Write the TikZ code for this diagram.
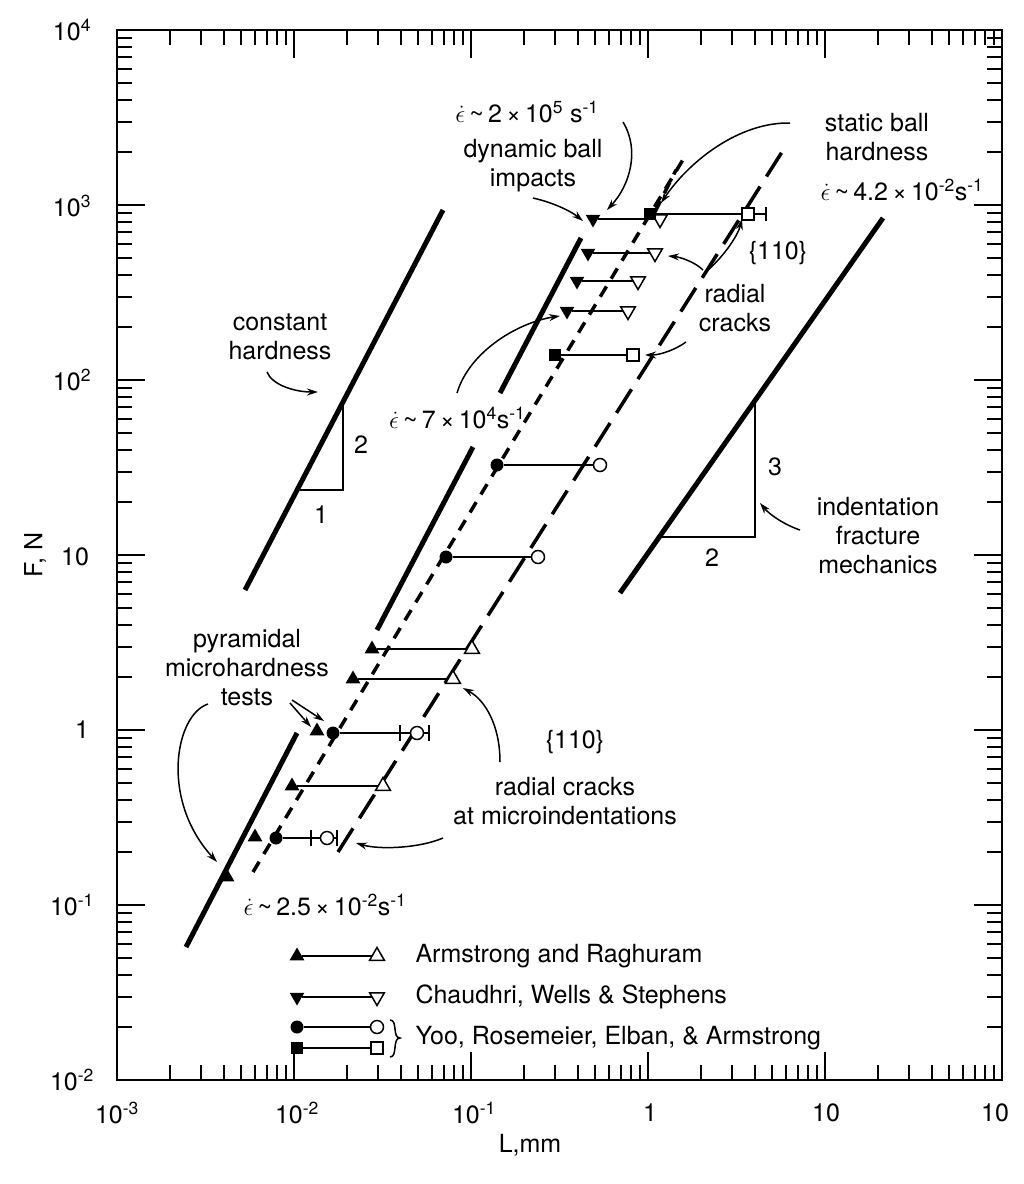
\documentclass[tikz,border=0pt]{standalone}
\usepackage{fontspec}
\setmainfont{TeX Gyre Heros}
\usetikzlibrary{shapes.geometric,arrows.meta}
\newcommand\ed{$\dot{\epsilon}$\,\textasciitilde\,}
\newcommand\sps[1]{\textsuperscript{#1}}
\begin{document}
\begin{tikzpicture}[x=1pt,y=-1pt,
  every node/.style={font=\fontsize{25}{29}\selectfont},
  thickln/.style={line width=5pt},
  sdash/.style={line width=3.5pt,dash pattern=on 12pt off 9pt},
  ldash/.style={line width=3.5pt,dash pattern=on 28pt off 12pt},
  conn/.style={line width=1.8pt},
  lead/.style={line width=1.5pt,-{Stealth[length=11pt,width=7pt]}},
  sym/.style={inner sep=0pt,outer sep=0pt,line width=1.5pt},
  ftri/.style={sym,regular polygon,regular polygon sides=3,minimum size=17pt,fill=black},
  otri/.style={sym,regular polygon,regular polygon sides=3,minimum size=17pt,draw,fill=white},
  fdtri/.style={ftri,shape border rotate=180},
  odtri/.style={otri,shape border rotate=180},
  fcir/.style={sym,circle,minimum size=13pt,fill=black},
  ocir/.style={sym,circle,minimum size=13pt,draw,fill=white},
  fsq/.style={sym,rectangle,minimum size=12pt,fill=black},
  osq/.style={sym,rectangle,minimum size=12pt,draw,fill=white},
  lbl/.style={inner sep=1pt,align=center}]
\useasboundingbox (0,0) rectangle (1024,1184);
\fill[white] (0,0) rectangle (1024,1184);
% frame
\draw[line width=2.5pt] (117,30) rectangle (1002,1080);
% x ticks
\foreach \d in {0,...,4}{
  \draw[line width=2pt] ({117+177*\d},1080) -- ({117+177*\d},1052);
  \draw[line width=2pt] ({117+177*\d},30) -- ({117+177*\d},58);
  \foreach \k in {2,...,9}{
    \draw[line width=2pt] ({117+177*(\d+ln(\k)/ln(10))},1080) -- ++(0,-15);
    \draw[line width=2pt] ({117+177*(\d+ln(\k)/ln(10))},30) -- ++(0,15);
  }}
% y ticks
\foreach \d in {0,...,5}{
  \draw[line width=2pt] (117,{1080-175*\d}) -- (145,{1080-175*\d});
  \draw[line width=2pt] (1002,{1080-175*\d}) -- (974,{1080-175*\d});
  \foreach \k in {2,...,9}{
    \draw[line width=2pt] (117,{1080-175*(\d+ln(\k)/ln(10))}) -- ++(15,0);
    \draw[line width=2pt] (1002,{1080-175*(\d+ln(\k)/ln(10))}) -- ++(-15,0);
  }}
% tick labels
\node (xl1) at (117,1113) {10\sps{-3}};
\node (xl2) at (297,1113) {10\sps{-2}};
\node (xl3) at (474,1113) {10\sps{-1}};
\node (xl4) at (650,1113) {1};
\node (xl5) at (826,1113) {10};
\node (xl6) at (995,1113) {10};
\node (yl1) at (72,30) {10\sps{4}};
\node (yl2) at (72,206) {10\sps{3}};
\node (yl3) at (72,380) {10\sps{2}};
\node (yl4) at (75,557) {10};
\node (yl5) at (82,730) {1};
\node (yl6) at (72,905) {10\sps{-1}};
\node (yl7) at (72,1080) {10\sps{-2}};
\node (xlab) at (530,1145) {L,mm};
\node[rotate=90] (ylab) at (35,555) {F, N};
% lines
\draw[thickln] (245,590) -- (443,210);
\draw[line width=2pt] (300,490) -- (343,490) -- (343,402);
\node (two1) at (361,445) {2};
\node (one1) at (321,515) {1};
\draw[thickln] (186,947) -- (297,733);
\draw[thickln] (377,630) -- (473,447);
\draw[thickln] (500,393) -- (581,238);
\draw[thickln] (620,593) -- (883,218);
\draw[line width=2pt] (660,537) -- (755,537) -- (755,400);
\node (three2) at (775,467) {3};
\node (two2) at (712,558) {2};
\draw[sdash] (253,872) -- (687,153);
\draw[sdash] (655,212) -- (676,170);
\draw[ldash] (338,852) -- (782,152);
% data pairs
\newcommand\dpair[6]{%
  \node[#2] (#1a) at (#3,#6) {};
  \node[#4] (#1b) at (#5,#6) {};
  \draw[conn] (#1a) -- (#1b);}
\dpair{p1}{fdtri}{593}{odtri}{660}{219}
\node[fsq] (p0a) at (650,214) {};
\node[osq] (p0b) at (748,214) {};
\draw[conn] (p0a) -- (p0b);
\draw[conn] (p0b.east) -- ++(12,0) coordinate (p0e);
\draw[conn] ([yshift=-7pt]p0e) -- ([yshift=7pt]p0e);
\dpair{p2}{fdtri}{588}{odtri}{655}{253}
\dpair{p3}{fdtri}{577}{odtri}{638}{281}
\dpair{p4}{fdtri}{567}{odtri}{628}{311}
\dpair{p5}{fsq}{555}{osq}{633}{355}
\dpair{p6}{fcir}{497}{ocir}{600}{465}
\dpair{p7}{fcir}{446}{ocir}{538}{557}
\dpair{p8}{ftri}{372}{otri}{472}{649}
\dpair{p9}{ftri}{353}{otri}{453}{679}
\node[ftri] (p10t) at (317,731) {};
\dpair{p10}{fcir}{333}{ocir}{417}{733}
\draw[conn] (400,725) -- (400,741);
\draw[conn] (p10b.east) -- (429,733) coordinate (p10e);
\draw[conn] (429,725) -- (429,741);
\dpair{p11}{ftri}{292}{otri}{383}{786}
\node[ftri] (p12t) at (255,837) {};
\dpair{p12}{fcir}{276}{ocir}{327}{838}
\draw[conn] (311,830) -- (311,846);
\draw[conn] (p12b.east) -- (337,838);
\draw[conn] (337,830) -- (337,846);
\node[ftri] (p13) at (227,877) {};
% legend
\dpair{l1}{ftri}{297}{otri}{377}{956}
\dpair{l2}{fdtri}{297}{odtri}{377}{997}
\dpair{l3}{fcir}{297}{ocir}{377}{1027}
\dpair{l4}{fsq}{297}{osq}{377}{1048}
\node[anchor=west] (t1) at (412,956) {Armstrong and Raghuram};
\node[anchor=west] (t2) at (412,997) {Chaudhri, Wells \& Stephens};
\node[anchor=west] (t3) at (412,1038) {Yoo, Rosemeier, Elban, \& Armstrong};
\draw[line width=1.5pt] (390,1020) .. controls (398,1020) and (392,1038) .. (400,1038) .. controls (392,1038) and (398,1057) .. (390,1057);
% labels
\node[lbl] (ch) at (280,337) {constant\\hardness};
\draw[lead] (267,372) .. controls (272,385) and (295,392) .. (318,392);
\node[lbl,anchor=west] (e7) at (388,418) {\ed 7\,\texttimes\,10\sps{4}s\sps{-1}};
\draw[lead] (457,393) .. controls (470,350) and (520,322) .. (560,316);
\node[lbl] (e2) at (527,112) {\ed 2\,\texttimes\,10\sps{5} s\sps{-1}};
\node[lbl] (dbi) at (533,166) {dynamic ball\\impacts};
\draw[lead] (533,198) .. controls (555,203) and (572,212) .. (583,221);
\draw[lead] (623,122) .. controls (640,150) and (630,185) .. (607,210);
\node[lbl] (sbh) at (877,137) {static ball\\hardness};
\node[lbl] (e42) at (902,190) {\ed 4.2\,\texttimes\,10\sps{-2}s\sps{-1}};
\draw[lead] (790,123) .. controls (740,122) and (690,160) .. (661,203);
\node (h110a) at (778,253) {\{110\}};
\node[lbl] (rc1) at (735,308) {radial\\cracks};
\draw[lead] (703,270) .. controls (695,262) and (680,257) .. (668,256);
\draw[lead] (708,270) .. controls (725,255) and (738,235) .. (742,219);
\draw[lead] (686,342) .. controls (675,350) and (660,355) .. (645,355);
\node[lbl] (ifm) at (878,536) {indentation\\fracture\\mechanics};
\draw[lead] (800,530) .. controls (785,525) and (770,515) .. (760,503);
\node[lbl] (pmt) at (247,668) {pyramidal\\microhardness\\tests};
\draw[lead] (290,703) -- (311,727);
\draw[lead] (292,700) -- (324,721);
\draw[lead] (208,704) .. controls (175,715) and (160,800) .. (217,862);
\node (h110b) at (575,742) {\{110\}};
\node[lbl] (rcm) at (565,801) {radial cracks\\at microindentations};
\draw[lead] (500,762) .. controls (500,725) and (485,700) .. (463,688);
\draw[lead] (443,838) .. controls (420,848) and (380,850) .. (356,843);
\node[anchor=west] (e25) at (240,905) {\ed 2.5\,\texttimes\,10\sps{-2}s\sps{-1}};
\end{tikzpicture}
\end{document}
